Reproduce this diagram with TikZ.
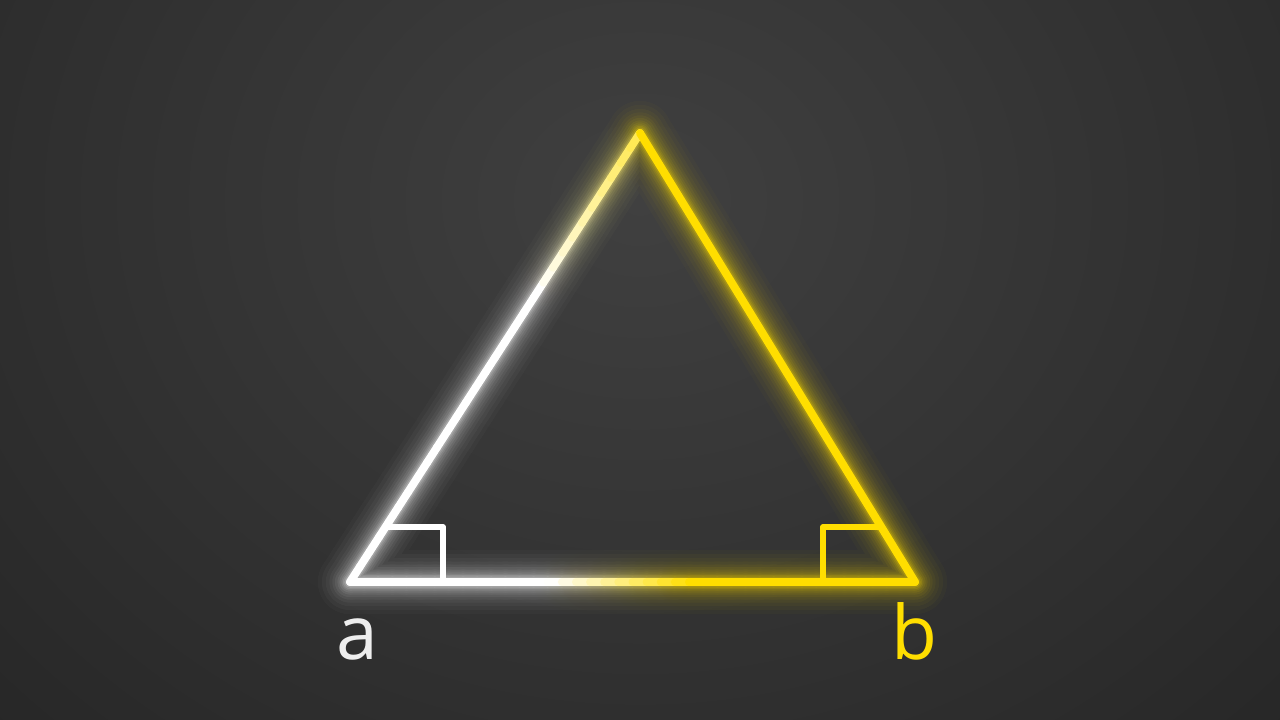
\documentclass[tikz,border=0pt]{standalone}
\usepackage{fontspec}
\setmainfont{Open Sans}
\usetikzlibrary{calc}
\definecolor{neonY}{RGB}{255,222,0}
\definecolor{bgout}{RGB}{28,28,28}
\definecolor{bgin}{RGB}{64,64,64}
\definecolor{labW}{RGB}{238,238,238}
\newcommand\drawtri[1]{%
  \foreach \i in {0,...,39}{%
    \pgfmathsetmacro\ta{\i/40}%
    \pgfmathsetmacro\tb{(\i+1)/40}%
    \pgfmathsetmacro\p{max(0,min(100,((\i+0.5)/40-0.36)/0.25*100))}%
    \draw[#1, color=neonY!\p!white] ($(A)!\ta!(B)$) -- ($(A)!\tb!(B)$);
  }%
  \foreach \i in {0,...,29}{%
    \pgfmathsetmacro\ta{\i/30}%
    \pgfmathsetmacro\tb{(\i+1)/30}%
    \pgfmathsetmacro\p{max(0,min(70,((\i+0.5)/30-0.65)/0.35*70))}%
    \draw[#1, color=neonY!\p!white] ($(A)!\ta!(C)$) -- ($(A)!\tb!(C)$);
  }%
  \draw[#1, color=neonY] (B) -- (C);
  \draw[#1, color=white, line width=5.5pt] (La) -- (Lb) -- (Lc);
  \draw[#1, color=neonY, line width=5.5pt] (Rc) -- (Rb) -- (Ra);
}
\begin{document}
\begin{tikzpicture}[x=1pt,y=-1pt]
\useasboundingbox (0,0) rectangle (1280,720);
\begin{scope}
  \clip (0,0) rectangle (1280,720);
  \fill[bgout] (0,0) rectangle (1280,720);
  \shade[inner color=bgin, outer color=bgout] (640,200) ellipse (1300 and 1100);
\end{scope}
\coordinate (A) at (350,582);
\coordinate (B) at (915,582);
\coordinate (C) at (640,133);
\coordinate (La) at (386,527);
\coordinate (Lb) at (443,527);
\coordinate (Lc) at (443,582);
\coordinate (Ra) at (881,527);
\coordinate (Rb) at (823,527);
\coordinate (Rc) at (823,582);
\foreach \w/\o in {64/0.025, 56/0.03, 48/0.035, 41/0.04, 35/0.05, 30/0.06, 25/0.07, 21/0.08, 17/0.10, 14/0.13, 11/0.18} {
  \begin{scope}[transparency group, opacity=\o]
    \drawtri{line width=\w pt, line cap=round, line join=round}
  \end{scope}
}
\drawtri{line width=8pt, line cap=round, line join=round}
\node[anchor=base, text=labW, font=\fontsize{75}{80}\selectfont, inner sep=0pt] (la) at (357,659) {a};
\node[anchor=base, text=neonY, font=\fontsize{75}{80}\selectfont, inner sep=0pt] (lb) at (914,659) {b};
\end{tikzpicture}
\end{document}
